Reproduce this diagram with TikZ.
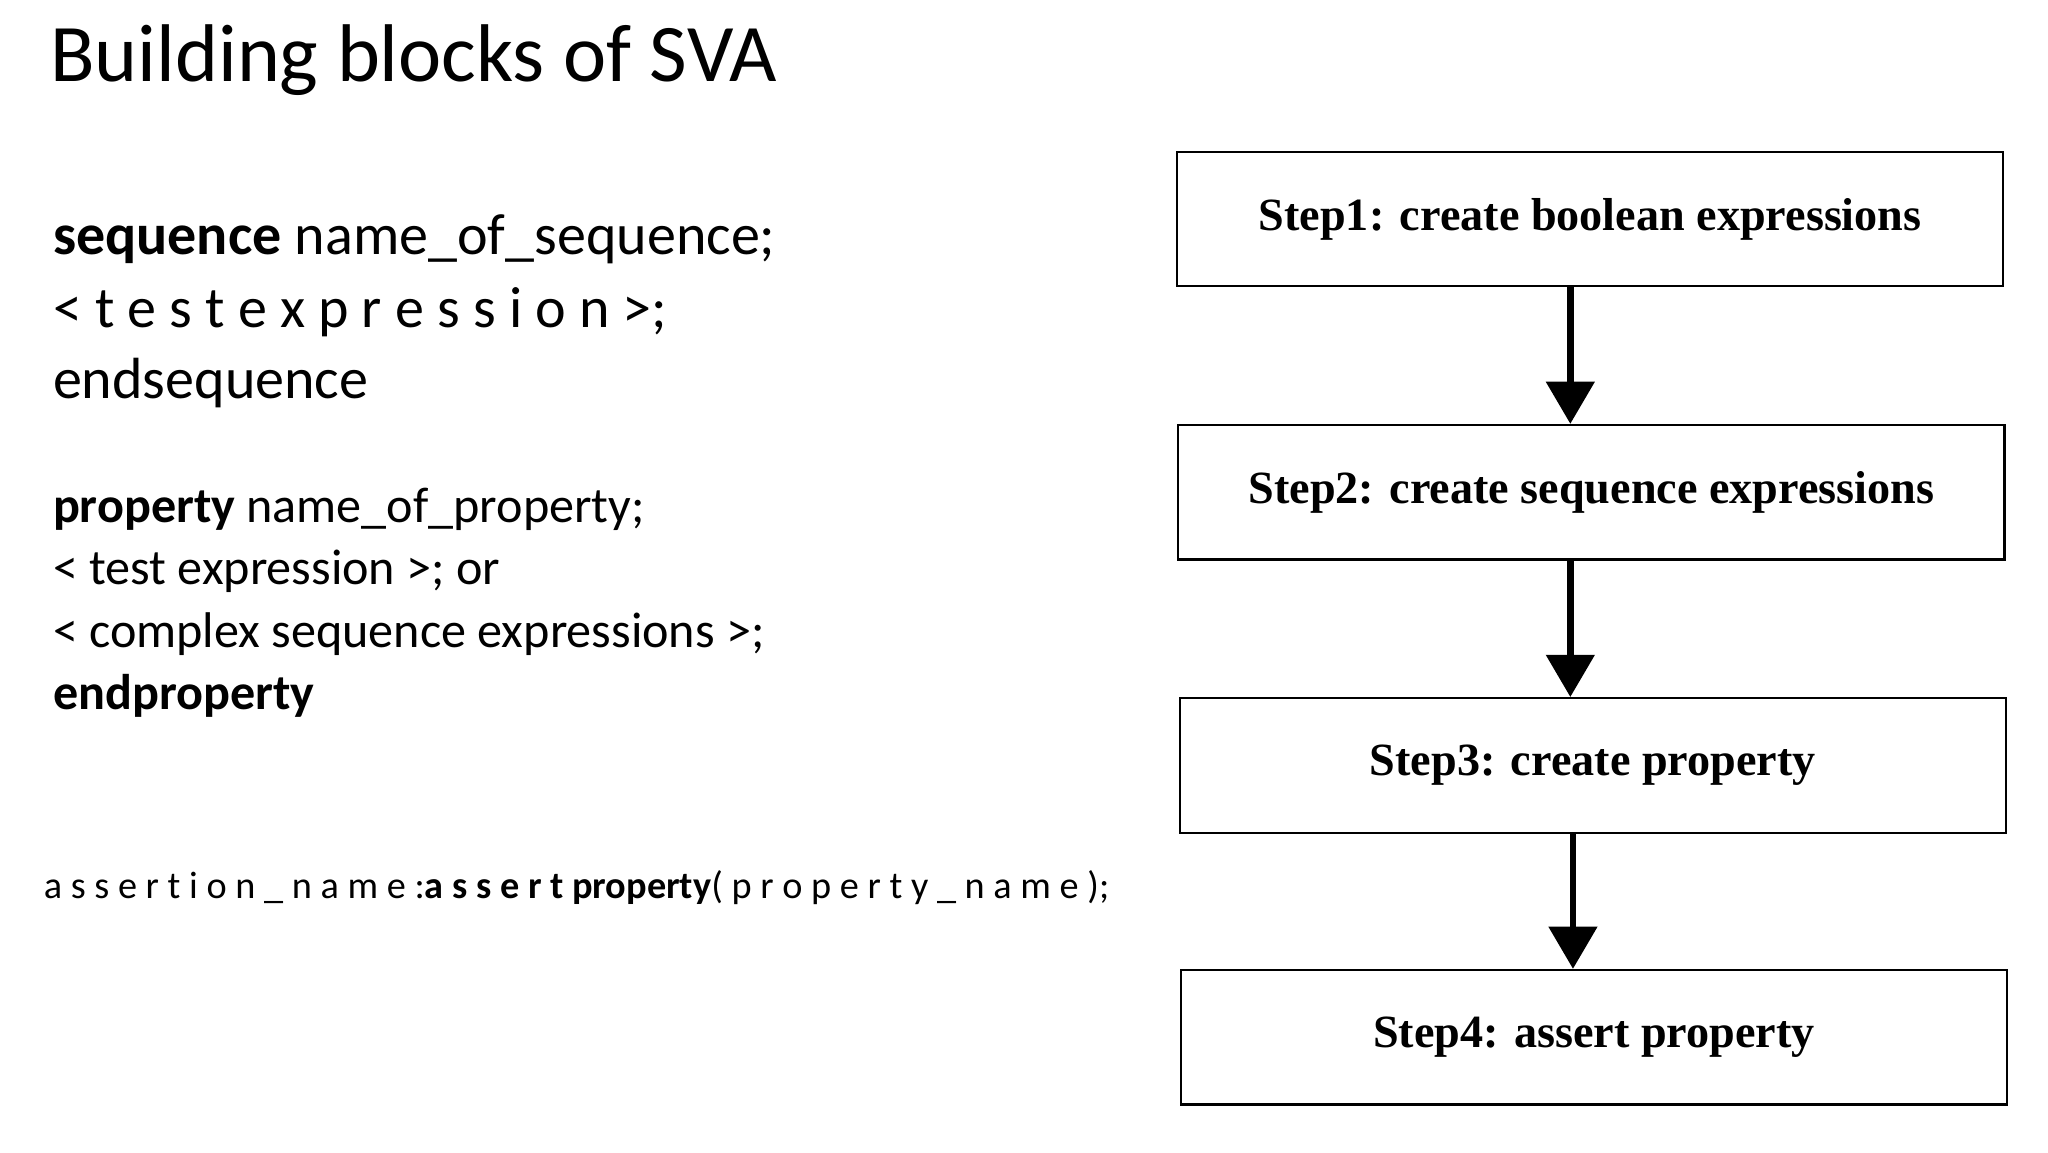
\documentclass[tikz,border=0pt]{standalone}
\usepackage{fontspec}
\setmainfont{Carlito}
\newfontfamily\boxfont{Liberation Serif}
\usetikzlibrary{arrows.meta}
\begin{document}
\begin{tikzpicture}[x=1pt,y=-1pt,
  stepbox/.style={draw,line width=1.6pt,minimum width=626pt,minimum height=102pt,inner sep=0pt,font=\boxfont\bfseries\fontsize{35}{40}\selectfont},
  arr/.style={line width=5pt,-{Triangle[width=36pt,length=32pt]}},
  txt/.style={anchor=base west,inner sep=0pt}]
\useasboundingbox (0,0) rectangle (1552,873);
\node[txt,font=\fontsize{62}{70}\selectfont] (title) at (38,62) {Building blocks of SVA};
\node[txt,font=\fontsize{44}{50}\selectfont] (s1) at (40,193) {\textbf{sequence} name\_of\_sequence;};
\node[txt,font=\fontsize{44}{50}\selectfont] (s2) at (40,248) {< t e s t e x p r e s s i o n >;};
\node[txt,font=\fontsize{44}{50}\selectfont] (s3) at (40,302) {endsequence};
\node[txt,font=\fontsize{38}{44}\selectfont] (p1) at (40,396) {\textbf{property} name\_of\_property;};
\node[txt,font=\fontsize{38}{44}\selectfont] (p2) at (40,443) {< test expression >; or};
\node[txt,font=\fontsize{38}{44}\selectfont] (p3) at (40,491) {< complex sequence expressions >;};
\node[txt,font=\fontsize{38}{44}\selectfont] (p4) at (40,538) {\textbf{endproperty}};
\node[txt,font=\fontsize{29}{34}\selectfont] (a1) at (33,681) {a s s e r t i o n \_ n a m e :\textbf{a s s e r t property}( p r o p e r t y \_ n a m e );};
\node[stepbox] (b1) at (1205,166) {Step1: create boolean expressions};
\node[stepbox] (b2) at (1206,373) {Step2: create sequence expressions};
\node[stepbox] (b3) at (1207,580) {Step3: create property};
\node[stepbox] (b4) at (1208,786) {Step4: assert property};
\draw[arr] ([xshift=-15pt]b1.south) -- ([xshift=-16pt]b2.north);
\draw[arr] ([xshift=-16pt]b2.south) -- ([xshift=-17pt]b3.north);
\draw[arr] ([xshift=-15pt]b3.south) -- ([xshift=-16pt]b4.north);
\end{tikzpicture}
\end{document}
